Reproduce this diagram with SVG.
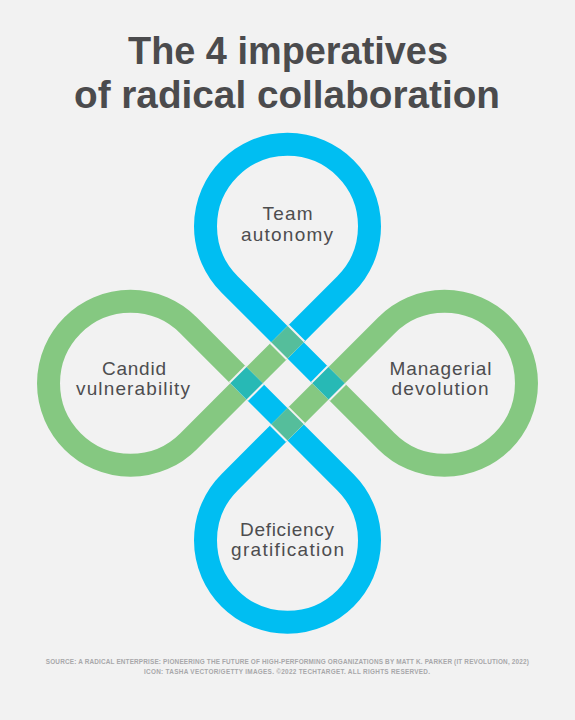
<svg xmlns="http://www.w3.org/2000/svg" width="575" height="720" viewBox="0 0 575 720">
<style>
.bg{fill:#F2F2F2}
.blue{fill:none;stroke:#00BEF2;stroke-width:23}
.green{fill:none;stroke:#85C881;stroke-width:23}
.gap{fill:#F2F2F2}
.tg{fill:#55BE9B}
.tc{fill:#27B9B5}
.title{font-family:"Liberation Sans",Arial,sans-serif;font-weight:bold;font-size:38.5px;fill:#4B4B4D;text-anchor:middle}
.label{font-family:"Liberation Sans",Arial,sans-serif;font-size:19px;fill:#4D4D4F;text-anchor:middle}
.note{font-family:"Liberation Sans",Arial,sans-serif;font-weight:bold;font-size:6.4px;fill:#A8A8AA;text-anchor:middle}
</style>
<rect class="bg" x="0" y="0" width="575" height="720"/>
<g id="title">
<text class="title" x="288" y="64.3" textLength="320" lengthAdjust="spacingAndGlyphs">The 4 imperatives</text>
<text class="title" x="287" y="108.3" textLength="426" lengthAdjust="spacingAndGlyphs">of radical collaboration</text>
</g>
<g id="loop-team-autonomy">
<path class="blue" transform="translate(287.5 383.3) rotate(45)" d="M 29 -29 L -111 -29 A 82 82 0 1 1 -29 -111 L -29 -29"/>
<text class="label" x="287.5" y="220" textLength="50">Team</text>
<text class="label" x="287" y="241" textLength="92">autonomy</text>
</g>
<g id="loop-candid-vulnerability">
<path class="green" transform="translate(287.5 383.3) rotate(45)" d="M -29 -29 L -29 111 A 82 82 0 1 1 -111 29 L -29 29"/>
<text class="label" x="134" y="374.5" textLength="64">Candid</text>
<text class="label" x="133" y="395" textLength="114">vulnerability</text>
</g>
<g id="loop-deficiency-gratification">
<path class="blue" transform="translate(287.5 383.3) rotate(45)" d="M -29 29 L 111 29 A 82 82 0 1 1 29 111 L 29 29"/>
<text class="label" x="287" y="536" textLength="94">Deficiency</text>
<text class="label" x="287.5" y="556" textLength="113">gratification</text>
</g>
<g id="loop-managerial-devolution">
<path class="green" transform="translate(287.5 383.3) rotate(45)" d="M 29 29 L 29 -111 A 82 82 0 1 1 111 -29 L 29 -29"/>
<text class="label" x="440.5" y="375" textLength="102">Managerial</text>
<text class="label" x="440" y="395" textLength="97">devolution</text>
</g>
<g id="connectors" transform="translate(287.5 383.3) rotate(45)">
<rect class="gap" x="-40.5" y="-42.5" width="23" height="27"/>
<rect class="tg" x="-40.5" y="-40.5" width="23" height="23"/>
<rect class="gap" x="15.5" y="-40.5" width="27" height="23"/>
<rect class="tc" x="17.5" y="-40.5" width="23" height="23"/>
<rect class="gap" x="17.5" y="15.5" width="23" height="27"/>
<rect class="tg" x="17.5" y="17.5" width="23" height="23"/>
<rect class="gap" x="-42.5" y="17.5" width="27" height="23"/>
<rect class="tc" x="-40.5" y="17.5" width="23" height="23"/>
</g>
<g id="footer">
<text class="note" x="287.3" y="664" textLength="483">SOURCE: A RADICAL ENTERPRISE: PIONEERING THE FUTURE OF HIGH-PERFORMING ORGANIZATIONS BY MATT K. PARKER (IT REVOLUTION, 2022)</text>
<text class="note" x="287" y="674" textLength="286">ICON: TASHA VECTOR/GETTY IMAGES. ©2022 TECHTARGET. ALL RIGHTS RESERVED.</text>
</g>
</svg>
